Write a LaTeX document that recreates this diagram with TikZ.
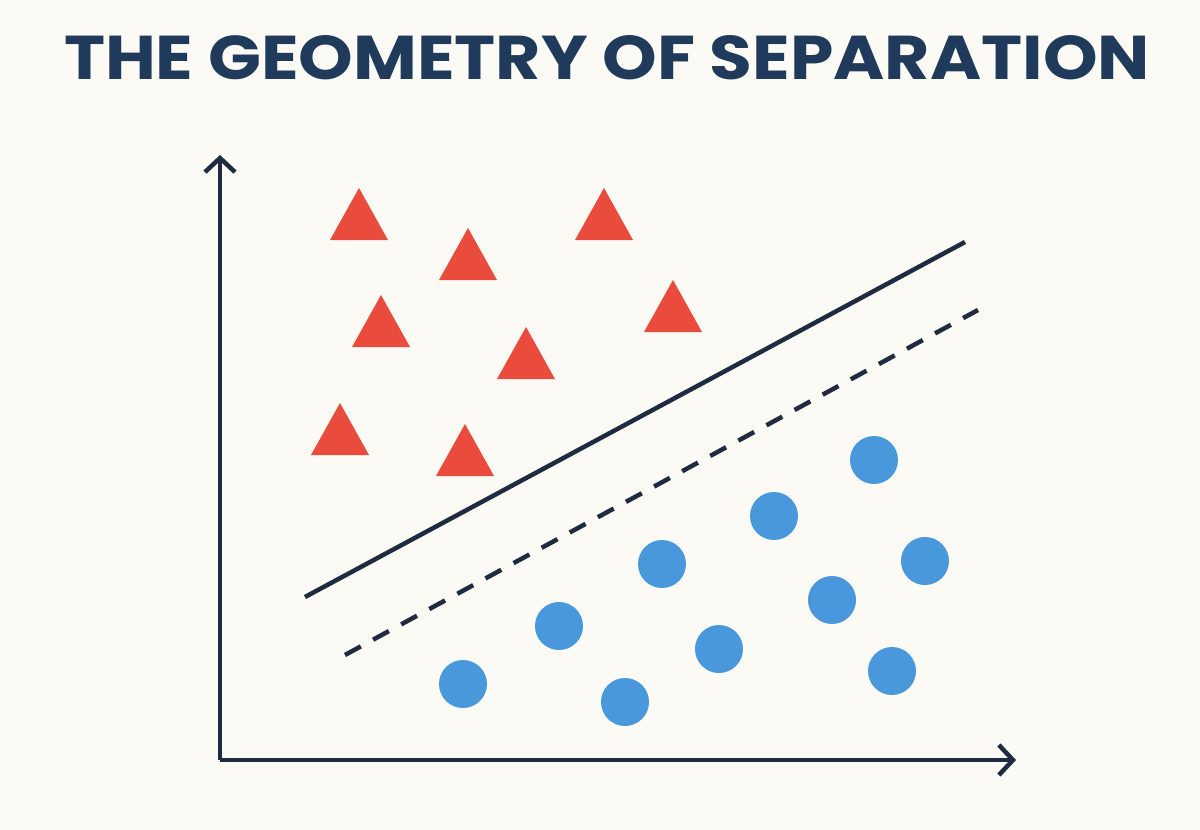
\documentclass[tikz,border=0pt]{standalone}
\usepackage{fontspec}
\setmainfont{Poppins}
\usetikzlibrary{arrows.meta}
\definecolor{bg}{HTML}{FBFAF5}
\definecolor{navy}{HTML}{1F3A5A}
\definecolor{ink}{HTML}{1E2B40}
\definecolor{tri}{HTML}{E94B3C}
\definecolor{dot}{HTML}{4A98DC}
\tikzset{
 axis/.style={draw=ink,line width=4.5pt,-{Straight Barb[length=14pt,width=30pt,line width=4.5pt]}},
 sep/.style={draw=ink,line width=4.5pt},
 tribox/.style={fill=tri},
 dotbox/.style={fill=dot}
}
\begin{document}
\begin{tikzpicture}[x=1pt,y=-1pt]
\fill[bg] (0,0) rectangle (1200,830);
\useasboundingbox (0,0) rectangle (1200,830);
\node[text=navy,font=\bfseries] (title) at (607,58) {\resizebox{1085pt}{44pt}{THE GEOMETRY OF SEPARATION}};
\coordinate (o) at (220,760);
\coordinate (yt) at (220,155);
\coordinate (xt) at (1016,760);
\draw[axis] (o) -- (yt);
\draw[axis] (o) -- (xt);
\coordinate (s1) at (305,597); \coordinate (s2) at (965,242);
\draw[sep] (s1) -- (s2);
\coordinate (d1) at (345,655); \coordinate (d2) at (978,310);
\draw[sep,dash pattern=on 18pt off 14pt] (d1) -- (d2);
\foreach \x/\y in {359/188,468/228,604/188,381/295,673/280,526/327,340/403,465/424}
  \fill[tribox] (\x,\y) -- (\x+29,\y+52) -- (\x-29,\y+52) -- cycle;
\foreach \x/\y in {874/460,774/516,662/564,925/561,559/626,832/600,719/649,892/671,463/684,625/702}
  \fill[dotbox] (\x,\y) circle (24);
\end{tikzpicture}
\end{document}
